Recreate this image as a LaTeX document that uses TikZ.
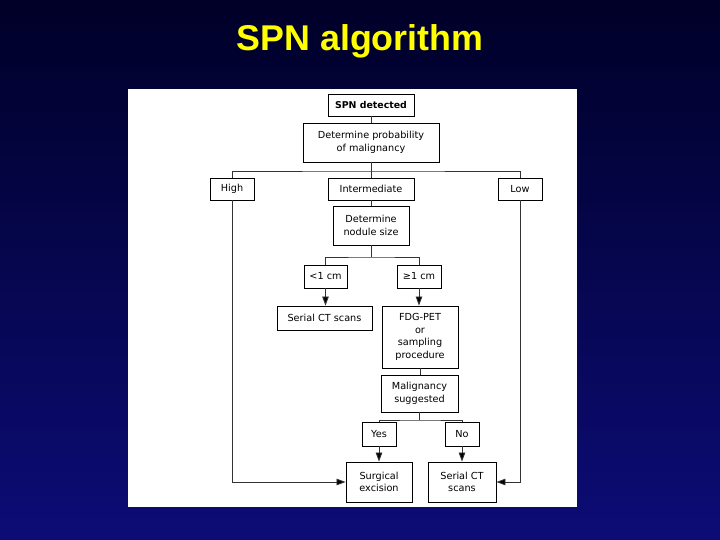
\documentclass[tikz,border=0pt]{standalone}
\usepackage{fontspec}
\setmainfont{DejaVu Sans}
\newfontfamily\titlefont{Liberation Sans}
\usetikzlibrary{arrows.meta}
\definecolor{bgtop}{RGB}{0,0,40}
\definecolor{bgbot}{RGB}{12,12,118}
\definecolor{ttl}{RGB}{255,255,0}
\begin{document}
\begin{tikzpicture}[x=1pt,y=-1pt,
  box/.style={draw=black,line width=0.9pt,fill=white,inner sep=0pt,align=center,
    font=\fontsize{9.7}{12.4}\selectfont},
  conn/.style={draw=black!80,line width=0.85pt},
  arr/.style={conn,-{Triangle[length=9pt,width=6.5pt,fill=black]}}]
\useasboundingbox (0,0) rectangle (720,540);
\shade[top color=bgtop,bottom color=bgbot] (0,0) rectangle (720,540);
\fill[white] (128,89) rectangle (577,507);
\node[text=ttl,font=\titlefont\bfseries\fontsize{35.8}{42}\selectfont] (title) at (360,41) {SPN algorithm};
% nodes
\node[box,minimum width=86pt,minimum height=22pt,font=\bfseries\fontsize{9.4}{11}\selectfont] (spn) at (371,105) {SPN detected};
\node[box,minimum width=136pt,minimum height=39pt] (prob) at (371,142.5) {Determine probability\\of malignancy};
\node[box,minimum width=44pt,minimum height=22pt] (high) at (232,189) {High};
\node[box,minimum width=86pt,minimum height=22pt] (inter) at (371,189) {Intermediate};
\node[box,minimum width=44pt,minimum height=22pt] (low) at (520,189) {Low};
\node[box,minimum width=76pt,minimum height=39pt] (size) at (371,225.5) {Determine\\nodule size};
\node[box,minimum width=43pt,minimum height=23pt] (lt) at (325.5,276.5) {<1 cm};
\node[box,minimum width=44pt,minimum height=23pt] (ge) at (419,276.5) {≥1 cm};
\node[box,minimum width=95pt,minimum height=24pt] (ser1) at (324.5,318) {Serial CT scans};
\node[box,minimum width=76pt,minimum height=62pt] (fdg) at (420,337) {FDG-PET\\or\\sampling\\procedure};
\node[box,minimum width=77pt,minimum height=37pt] (mal) at (419.5,393.5) {Malignancy\\suggested};
\node[box,minimum width=34pt,minimum height=24pt] (yes) at (379,434) {Yes};
\node[box,minimum width=34pt,minimum height=24pt] (no) at (462,434) {No};
\node[box,minimum width=66pt,minimum height=40pt] (surg) at (379,482) {Surgical\\excision};
\node[box,minimum width=68pt,minimum height=40pt] (ser2) at (462,482) {Serial CT\\scans};
% junctions
\coordinate (hbar) at (371,171);
\coordinate (sbar) at (371,257);
\coordinate (mbar) at (419.5,420);
% connectors
\draw[conn] (spn) -- (prob);
\draw[conn] (prob.south) -- (hbar);
\draw[conn] (high.north) |- (hbar) -| (low.north);
\draw[conn] (hbar) -- (inter.north);
\draw[conn] (inter) -- (size);
\draw[conn] (size.south) -- (sbar);
\draw[conn] (lt.north) |- (sbar) -| (ge.north);
\draw[arr] (lt) -- (lt |- ser1.north);
\draw[arr] (ge) -- (ge |- fdg.north);
\draw[conn] (fdg.south) -- (fdg.south |- mal.north);
\draw[conn] (mal.south) -- (mbar);
\draw[conn] (yes.north) |- (mbar) -| (no.north);
\draw[arr] (yes) -- (surg);
\draw[arr] (no) -- (ser2);
\draw[arr] (high.south) |- (surg.west);
\draw[arr] (low.south) |- (ser2.east);
\end{tikzpicture}
\end{document}
